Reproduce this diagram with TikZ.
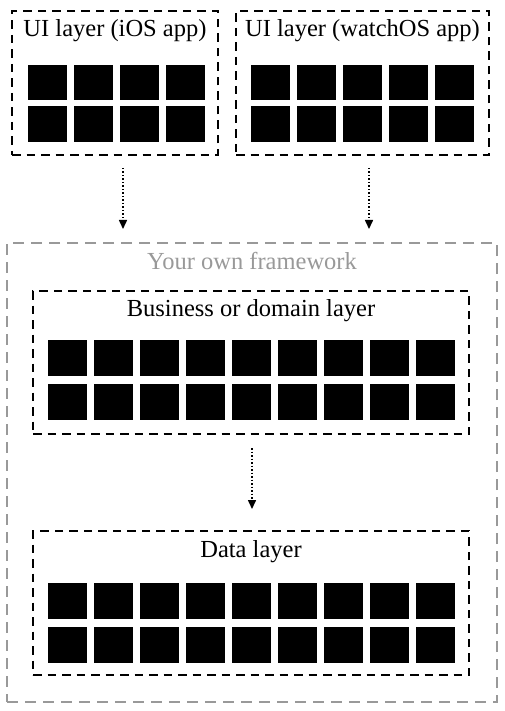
\documentclass[tikz,border=0pt]{standalone}
\usepackage{fontspec}
\setmainfont{Liberation Serif}
\usetikzlibrary{arrows.meta}
\definecolor{framegray}{HTML}{999999}
\begin{document}
\begin{tikzpicture}[x=1pt,y=-1pt,
  layerbox/.style={draw=black, line width=2pt, dash pattern=on 8.5pt off 6pt, inner sep=0pt},
  framebox/.style={draw=framegray, line width=1.6pt, dash pattern=on 11pt off 7pt, inner sep=0pt},
  lab/.style={font=\fontsize{24.5}{28}\selectfont, anchor=base, inner sep=0pt},
  flow/.style={dotted, line width=1.5pt, -{Triangle[width=8pt,length=9pt]}},
  blk/.style={fill=black}]
\useasboundingbox (0,0) rectangle (505,711);
% boxes
\node[layerbox, minimum width=206pt, minimum height=144pt] (ios) at (115,83) {};
\node[layerbox, minimum width=253pt, minimum height=144pt] (watch) at (362.5,83) {};
\node[framebox, minimum width=490pt, minimum height=459pt] (fw) at (252,472.5) {};
\node[layerbox, minimum width=436pt, minimum height=143pt] (biz) at (251,362.5) {};
\node[layerbox, minimum width=436pt, minimum height=144pt] (data) at (251,603) {};
% labels
\node[lab] (iosl) at (115,36.5) {UI layer (iOS app)};
\node[lab] (watchl) at (362.5,36.5) {UI layer (watchOS app)};
\node[lab, text=framegray] (fwl) at (252,269.5) {Your own framework};
\node[lab] (bizl) at (251,316.5) {Business or domain layer};
\node[lab] (datal) at (251,557.5) {Data layer};
% blocks
\foreach \i in {0,...,3}{
  \fill[blk] (28+46*\i,65) rectangle ++(39,35);
  \fill[blk] (28+46*\i,106) rectangle ++(39,36);
}
\foreach \i in {0,...,4}{
  \fill[blk] (251+46*\i,65) rectangle ++(39,35);
  \fill[blk] (251+46*\i,106) rectangle ++(39,36);
}
\foreach \i in {0,...,8}{
  \fill[blk] (48+46*\i,340) rectangle ++(39,36);
  \fill[blk] (48+46*\i,384) rectangle ++(39,36);
  \fill[blk] (48+46*\i,583) rectangle ++(39,36);
  \fill[blk] (48+46*\i,627) rectangle ++(39,36);
}
% arrows
\coordinate (a1s) at (123,168);
\coordinate (a1e) at (123,229);
\coordinate (a2s) at (369,168);
\coordinate (a2e) at (369,229);
\coordinate (a3s) at (252,448);
\coordinate (a3e) at (252,509);
\draw[flow] (a1s) -- (a1e);
\draw[flow] (a2s) -- (a2e);
\draw[flow] (a3s) -- (a3e);
\end{tikzpicture}
\end{document}
